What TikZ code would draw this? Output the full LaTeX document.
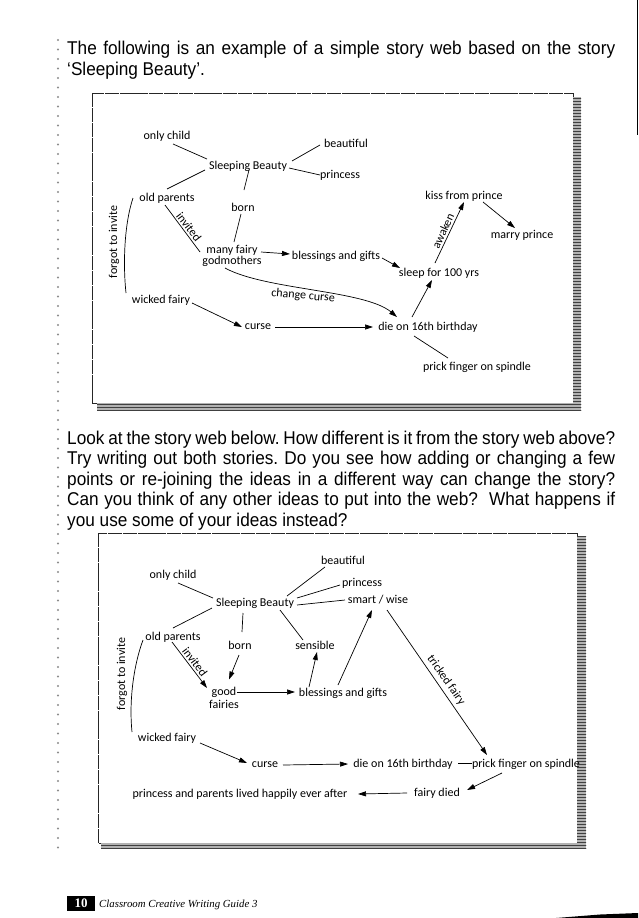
\documentclass[tikz,border=0pt]{standalone}
\usepackage{fontspec}
\setmainfont{Liberation Sans}
\newfontfamily\bodyfont{Liberation Sans}[FakeStretch=0.93]
\newfontfamily\handfont{Carlito}
\newfontfamily\footfont{Liberation Serif}
\usetikzlibrary{arrows.meta,calc,patterns}
\frenchspacing
\begin{document}
\begin{tikzpicture}[x=1pt,y=-1pt,
  lbl/.style={font=\handfont\fontsize{12}{11.5}\selectfont, inner sep=1pt, align=center},
  con/.style={line width=0.7pt},
  arr/.style={con,-{Triangle[length=8pt,width=5pt]}},
  bodyline/.style={anchor=base west, inner sep=0pt, font=\bodyfont\fontsize{18.5}{20}\selectfont},
  boxframe/.style={line width=0.8pt, black!85, dash pattern=on 14pt off 0.8pt},
  strip/.style={fill=black!30, postaction={pattern=horizontal lines, pattern color=black!75}}
]
\useasboundingbox (0,0) rectangle (638,918);
\fill[white] (0,0) rectangle (638,918);

% left margin marks
\foreach \k in {0,...,85} \fill[black!45] (58,{40+9.5*\k}) circle (1.1pt);

% paragraph 1
\node[bodyline] (p1a) at (67,54) {\makebox[548pt][s]{The following is an example of a simple story web based on the story}};
\node[bodyline] (p1b) at (67,75) {‘Sleeping Beauty’.};

% paragraph 2
\node[bodyline] (p2a) at (67,444) {\makebox[548pt][s]{Look at the story web below. How different is it from the story web above?}};
\node[bodyline] (p2b) at (67,464.5) {\makebox[548pt][s]{Try writing out both stories. Do you see how adding or changing a few}};
\node[bodyline] (p2c) at (67,485) {\makebox[548pt][s]{points or re-joining the ideas in a different way can change the story?}};
\node[bodyline] (p2d) at (67,505.5) {\makebox[548pt][s]{Can you think of any other ideas to put into the web? \ What happens if}};
\node[bodyline] (p2e) at (67,526) {you use some of your ideas instead?};

% ---------- top box ----------
\draw[boxframe] (92.7,93.3) rectangle (573,403);
\fill[strip] (573,97) rectangle (581,410);
\fill[strip] (97,403) rectangle (581,410);

\node[lbl] (toc) at (167,136) {only child};
\node[lbl] (tsb) at (248,166) {Sleeping Beauty};
\node[lbl] (tbe) at (346,143) {beautiful};
\node[lbl] (tpr) at (340,175.5) {princess};
\node[lbl] (topar) at (167,198) {old parents};
\node[lbl] (tborn) at (243,207) {born};
\node[lbl,rotate=-53] (tinv) at (189,227) {invited};
\node[lbl] (tmf) at (232,256) {many fairy\\godmothers};
\node[lbl] (tbg) at (336,256) {blessings and gifts};
\node[lbl,rotate=-5] (tcc) at (303,296) {change curse};
\node[lbl,rotate=90] (tfti) at (114,242) {forgot to invite};
\node[lbl] (twf) at (161,300) {wicked fairy};
\node[lbl] (tcu) at (258,327) {curse};
\node[lbl] (tkp) at (464,196) {kiss from prince};
\node[lbl] (tmp) at (522,235) {marry prince};
\node[lbl,rotate=65] (taw) at (443,231) {awaken};
\node[lbl] (tsl) at (439,273) {sleep for 100 yrs};
\node[lbl] (tdie) at (428,327) {die on 16th birthday};
\node[lbl] (tpf) at (477,367) {prick finger on spindle};

\draw[con] ($(toc)+(6,8)$) -- ($(tsb)+(-41,-7)$);
\draw[con] ($(tsb)+(44,-5)$) -- ($(tbe)+(-26,2)$);
\draw[con] ($(tsb)+(41,2)$) -- ($(tpr)+(-20,-0.5)$);
\draw[con] ($(tsb)+(-43,4)$) -- ($(topar)+(0,-9)$);
\draw[con] ($(tsb)+(1,4)$) -- ($(tborn)+(1,-17)$);
\draw[con] ($(tborn)+(-2,7)$) -- ($(tmf)+(2,-14)$);
\draw[con] ($(topar)+(-2,7)$) -- ($(tmf)+(-32,-4)$);
\draw[arr] ($(tmf)+(29,-4)$) -- ($(tbg)+(-46,-2)$);
\draw[arr] ($(tbg)+(46,2)$) -- ($(tsl)+(-39,-5)$);
\draw[arr] ($(tmf)+(-7,12)$) .. controls ($(tmf)+(33,34)$) and ($(tdie)+(-63,-37)$) .. ($(tdie)+(-31,-10)$);
\draw[con] ($(topar)+(-34,0)$) .. controls ($(topar)+(-43,27)$) and ($(twf)+(-38,-35)$) .. ($(twf)+(-35,-7)$);
\draw[arr] ($(twf)+(31,3)$) -- ($(tcu)+(-16,0)$);
\draw[arr] ($(tcu)+(17,0)$) -- ($(tdie)+(-55,0)$);
\draw[arr] ($(tdie)+(-16,-10)$) -- ($(tsl)+(-7,7)$);
\draw[arr] ($(tsl)+(-4,-10)$) -- ($(tkp)+(0,6)$);
\draw[arr] ($(tkp)+(19,6)$) -- ($(tmp)+(-7,-7)$);
\draw[con] ($(tdie)+(-14,9)$) -- ($(tpf)+(-29,-9)$);

% ---------- bottom box ----------
\draw[boxframe] (98,533) rectangle (577,843);
\fill[strip] (577,536) rectangle (586,849);
\fill[strip] (101,843) rectangle (586,849);

\node[lbl] (boc) at (173,575) {only child};
\node[lbl] (bbe) at (343,560) {beautiful};
\node[lbl] (bpr) at (362,583) {princess};
\node[lbl] (bsw) at (378,600) {smart / wise};
\node[lbl] (bsb) at (255,603) {Sleeping Beauty};
\node[lbl] (bop) at (173,637) {old parents};
\node[lbl] (bborn) at (240,645) {born};
\node[lbl] (bsen) at (315,645) {sensible};
\node[lbl,rotate=-53] (binv) at (195,662) {invited};
\node[lbl,font=\handfont\fontsize{12}{13}\selectfont] (bgf) at (224,697.5) {good\\fairies};
\node[lbl] (bbg) at (343,693) {blessings and gifts};
\node[lbl,rotate=90] (bfti) at (122,674) {forgot to invite};
\node[lbl] (bwf) at (167,738) {wicked fairy};
\node[lbl] (bcu) at (265,765) {curse};
\node[lbl] (bdie) at (403,764) {die on 16th birthday};
\node[lbl] (bpf) at (526,764) {prick finger on spindle};
\node[lbl] (bfd) at (437,793) {fairy died};
\node[lbl] (bpp) at (240,794) {princess and parents lived happily ever after};
\node[lbl,rotate=-55] (btf) at (446,680) {tricked fairy};

\draw[con] ($(boc)+(5,8)$) -- ($(bsb)+(-42,-5)$);
\draw[con] ($(bsb)+(32,-7)$) -- ($(bbe)+(-18,7)$);
\draw[con] ($(bsb)+(42,-5)$) -- ($(bpr)+(-22,2)$);
\draw[con] ($(bsb)+(42,2)$) -- ($(bsw)+(-33,0)$);
\draw[con] ($(bsb)+(-43,5)$) -- ($(bop)+(0,-9)$);
\draw[con] ($(bsb)+(-12,10)$) -- ($(bborn)+(2,-13)$);
\draw[arr] ($(bborn)+(-1,10)$) -- ($(bgf)+(5,-18)$);
\draw[con] ($(bsb)+(25,7)$) -- ($(bsen)+(-12,-5)$);
\draw[arr] ($(bop)+(-1,5)$) -- ($(bgf)+(-17,-9.5)$);
\draw[arr] ($(bgf)+(13,-5.5)$) -- ($(bbg)+(-48,-1)$);
\draw[arr] ($(bbg)+(-34,-6)$) -- ($(bsen)+(2,7)$);
\draw[arr] ($(bbg)+(-5,-8)$) -- ($(bsw)+(-6,10)$);
\draw[arr] ($(bsw)+(9,10)$) -- ($(bpf)+(-39,-9)$);
\draw[con] ($(bop)+(-30,3)$) .. controls ($(bop)+(-40,30)$) and ($(bwf)+(-38,-35)$) .. ($(bwf)+(-35,-6)$);
\draw[arr] ($(bwf)+(33,5)$) -- ($(bcu)+(-18,-2)$);
\draw[arr] ($(bcu)+(18,0)$) -- ($(bdie)+(-55,0)$);
\draw[con] ($(bdie)+(55,-1)$) -- ($(bpf)+(-54,-1)$);
\draw[arr] ($(bpf)+(-24,9)$) -- ($(bfd)+(30,-3)$);
\draw[arr] ($(bfd)+(-30,0)$) -- ($(bpp)+(118,0)$);

% ---------- footer ----------
\fill[black] (67,896) rectangle (95,911);
\node[font=\footfont\bfseries\fontsize{13}{13}\selectfont, text=white, inner sep=0pt] (pg) at (81,903.5) {10};
\node[anchor=base west, font=\footfont\itshape\fontsize{10.8}{12}\selectfont, inner sep=0pt] (ft) at (99,907) {Classroom Creative Writing Guide 3};

% scan edge marks
\fill[black] (636.5,0) rectangle (638,135);
\fill[black] (556,918) -- (600,914.5) -- (638,913) -- (638,918) -- cycle;
\end{tikzpicture}
\end{document}
